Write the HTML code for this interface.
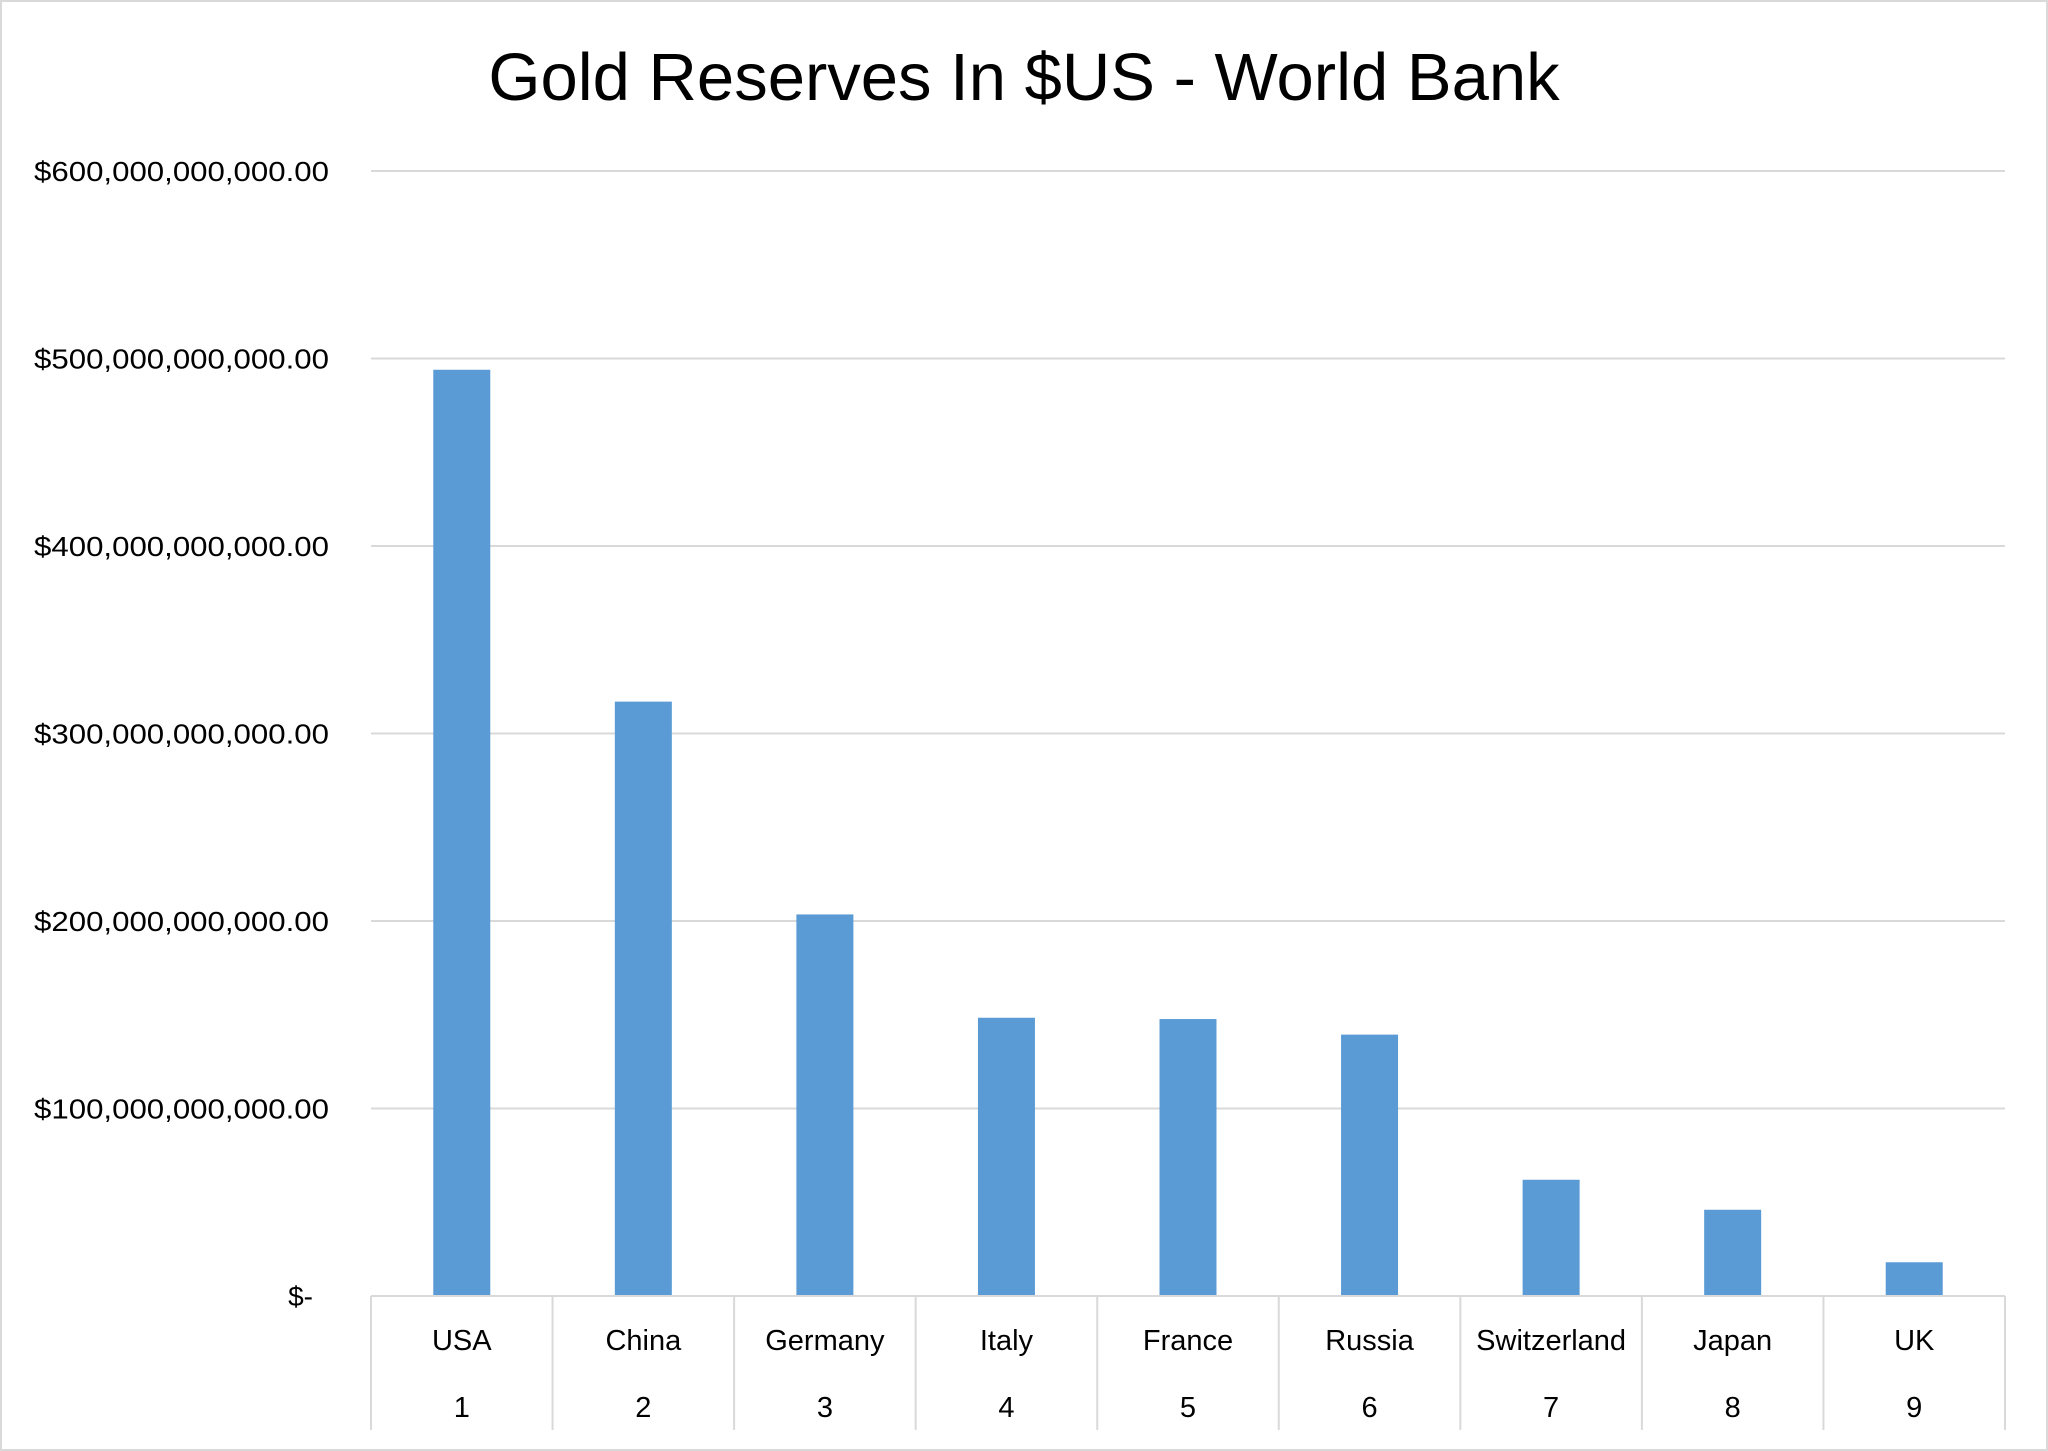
<!DOCTYPE html>
<html><head><meta charset="utf-8">
<style>
html,body{margin:0;padding:0;background:#fff;}
svg{display:block;font-family:"Liberation Sans",sans-serif;}
</style></head>
<body>
<svg id="chart" width="2048" height="1451" viewBox="0 0 2048 1451">
<rect x="1" y="1" width="2046" height="1449" fill="#fff" stroke="#d9d9d9" stroke-width="2"/>
<text x="1024" y="100" text-anchor="middle" font-size="67" fill="#000">Gold Reserves In $US - World Bank</text>
<g id="grid"></g><g id="bars"></g><g id="xaxis"></g><g id="yaxis"></g>
</svg>
<script>
const categories = ["USA","China","Germany","Italy","France","Russia","Switzerland","Japan","UK"];
const ranks = ["1","2","3","4","5","6","7","8","9"];
const values = [494e9, 317e9, 203.5e9, 148.4e9, 147.7e9, 139.4e9, 62e9, 46e9, 18e9];
const yTicks = [0,100e9,200e9,300e9,400e9,500e9,600e9];
const yTickLabels = ["$-","$100,000,000,000.00","$200,000,000,000.00","$300,000,000,000.00","$400,000,000,000.00","$500,000,000,000.00","$600,000,000,000.00"];

const NS="http://www.w3.org/2000/svg";
const x0=371,x1=2005,yTop=171,yBase=1296,yMax=600e9;
const band=(x1-x0)/categories.length, barW=57;
const y=v=>yBase-(v/yMax)*(yBase-yTop);
const xc=i=>x0+band*(i+0.5);
function mk(tag,attrs,parent){const e=document.createElementNS(NS,tag);for(const k in attrs)e.setAttribute(k,attrs[k]);parent.appendChild(e);return e;}
const grid=document.getElementById('grid'),bars=document.getElementById('bars'),xa=document.getElementById('xaxis'),ya=document.getElementById('yaxis');
yTicks.forEach((t,i)=>{
  if(t>0){const l=mk('line',{x1:x0,x2:x1,y1:y(t),y2:y(t),stroke:'#d9d9d9','stroke-width':2},grid);
  
  }
  const attrs={x:t===0?313:329,y:y(t)+10,'text-anchor':'end','font-size':28,fill:'#000'};
  if(t>0){attrs.textLength=295;attrs.lengthAdjust='spacingAndGlyphs';}
  const tx=mk('text',attrs,ya);
  tx.textContent=yTickLabels[i];
  
  
});
values.forEach((v,i)=>{
  const r=mk('rect',{x:xc(i)-barW/2,y:y(v),width:barW,height:yBase-y(v),fill:'#5b9bd5'},bars);
  
  
});
const ax=mk('line',{x1:x0,x2:x1,y1:yBase,y2:yBase,stroke:'#d9d9d9','stroke-width':2},xa);


for(let i=0;i<=categories.length;i++){
  const s=mk('line',{x1:x0+band*i,x2:x0+band*i,y1:yBase,y2:1430,stroke:'#d9d9d9','stroke-width':2},xa);
  
  
}
categories.forEach((c,i)=>{
  const t=mk('text',{x:xc(i),y:1350,'text-anchor':'middle','font-size':29,fill:'#000'},xa);
  t.textContent=c;
  
  
  const n=mk('text',{x:xc(i),y:1417,'text-anchor':'middle','font-size':29,fill:'#000'},xa);
  n.textContent=ranks[i];
  
  
});
</script>
</body></html>
